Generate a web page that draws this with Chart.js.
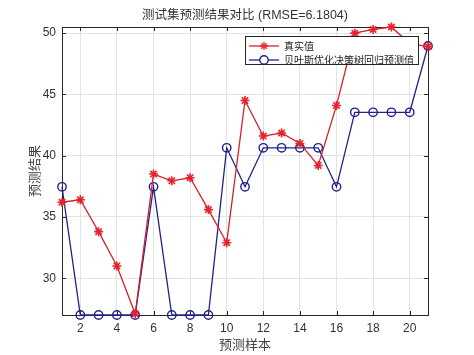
<!DOCTYPE html>
<html>
<head>
<meta charset="utf-8">
<script src="https://cdn.jsdelivr.net/npm/chart.js@4"></script>
<style>
html,body{margin:0;padding:0;background:#fff;}
#wrap{position:relative;width:474px;height:355px;}
#legend{position:absolute;left:245px;top:36px;width:174px;height:29px;background:#fff;border:1px solid #262626;box-sizing:border-box;font-family:"Noto Sans CJK SC",sans-serif;font-size:10px;color:#222;}
.row{position:absolute;left:0;height:14px;display:flex;align-items:center;white-space:nowrap;}
.row svg{margin-left:2px;margin-right:4px;}
</style>
</head>
<body>
<div id="wrap">
<canvas id="c" width="474" height="355"></canvas>
<div id="legend">
  <div class="row" style="top:1.5px"><svg width="32" height="12"><line x1="1" y1="6" x2="31" y2="6" stroke="#d0222b" stroke-width="1.3"/><g stroke="#e8212a" stroke-width="1.3"><line x1="16" y1="2" x2="16" y2="10"/><line x1="12" y1="6" x2="20" y2="6"/><line x1="13.2" y1="3.2" x2="18.8" y2="8.8"/><line x1="13.2" y1="8.8" x2="18.8" y2="3.2"/></g></svg><span>真实值</span></div>
  <div class="row" style="top:15.5px"><svg width="32" height="12"><line x1="1" y1="6" x2="31" y2="6" stroke="#22228a" stroke-width="1.3"/><circle cx="16" cy="6" r="4.2" fill="#fff" stroke="#22228a" stroke-width="1.4"/></svg><span>贝叶斯优化决策树回归预测值</span></div>
</div>
</div>
<script>
const samples = [1,2,3,4,5,6,7,8,9,10,11,12,13,14,15,16,17,18,19,20,21];
const actualValues = [36.2,36.4,33.8,31.0,27.1,38.5,37.95,38.2,35.6,32.9,44.5,41.6,41.85,41.0,39.2,44.1,50.0,50.3,50.5,49.15,48.9];
const predictedValues = [37.46,27.0,27.0,27.0,27.0,37.46,27.0,27.0,27.0,40.64,37.46,40.64,40.64,40.64,40.64,37.46,43.54,43.54,43.54,43.54,48.95];
const xTicks = [2,4,6,8,10,12,14,16,18,20];
const yTicks = [30,35,40,45,50];
const titleText = '测试集预测结果对比 (RMSE=6.1804)';
const seriesNames = ['真实值','贝叶斯优化决策树回归预测值'];

const frame = {
  id:'frame',
  beforeDatasetsDraw(chart){
    const {ctx, chartArea:a, scales} = chart;
    ctx.save();
    ctx.strokeStyle = '#262626';
    ctx.lineWidth = 1;
    ctx.beginPath();
    xTicks.forEach(v=>{
      const px = Math.round(scales.x.getPixelForValue(v))+0.5;
      ctx.moveTo(px,a.bottom); ctx.lineTo(px,a.bottom-4);
      ctx.moveTo(px,a.top); ctx.lineTo(px,a.top+4);
    });
    yTicks.forEach(v=>{
      const py = Math.round(scales.y.getPixelForValue(v))+0.5;
      ctx.moveTo(a.left,py); ctx.lineTo(a.left+4,py);
      ctx.moveTo(a.right,py); ctx.lineTo(a.right-4,py);
    });
    ctx.stroke();
    ctx.strokeRect(Math.round(a.left)+0.5, Math.round(a.top)+0.5, Math.round(a.right-a.left), Math.round(a.bottom-a.top));
    ctx.restore();
  }
};

new Chart(document.getElementById('c'), {
  type:'line',
  data:{
    datasets:[
      {label:seriesNames[0], data:samples.map((x,i)=>({x, y:actualValues[i]})),
       borderColor:'#d0222b', borderWidth:1.3, pointStyle:'star', pointRadius:4.5,
       pointBorderColor:'#e8212a', pointBackgroundColor:'#e8212a', pointBorderWidth:1.6, clip:false, tension:0},
      {label:seriesNames[1], data:samples.map((x,i)=>({x, y:predictedValues[i]})),
       borderColor:'#22228a', borderWidth:1.3, pointStyle:'circle', pointRadius:4.2,
       pointBorderColor:'#22228a', pointBackgroundColor:'rgba(255,255,255,0)', pointBorderWidth:1.4, clip:false, tension:0}
    ]
  },
  options:{
    responsive:false, animation:false, devicePixelRatio:1,
    layout:{padding:{left:0,right:46,top:0,bottom:2}},
    plugins:{
      legend:{display:false},
      tooltip:{enabled:false},
      title:{display:true, text:titleText, color:'#333', fullSize:false,
        font:{family:'"Liberation Sans","Noto Sans CJK SC",sans-serif', size:12.5, weight:'normal'},
        padding:{top:8,bottom:4}}
    },
    scales:{
      x:{type:'linear', min:1, max:21,
        afterBuildTicks(s){ s.ticks = xTicks.map(v=>({value:v})); },
        afterFit(s){ s.height = 38; },
        grid:{color:'#e3e3e3', drawTicks:false, lineWidth:1},
        border:{display:false},
        ticks:{padding:6, color:'#333', font:{family:'"Liberation Sans",sans-serif', size:12}, maxRotation:0},
        title:{display:true, text:'预测样本', color:'#444', padding:{top:0,bottom:1},
          font:{family:'"Noto Sans CJK SC",sans-serif', size:13}}
      },
      y:{type:'linear', min:27, max:50.5,
        afterBuildTicks(s){ s.ticks = yTicks.map(v=>({value:v})); },
        afterFit(s){ s.width = 62; },
        grid:{color:'#e3e3e3', drawTicks:false, lineWidth:1},
        border:{display:false},
        ticks:{padding:6, color:'#333', font:{family:'"Liberation Sans",sans-serif', size:12}},
        title:{display:true, text:'预测结果', color:'#444', padding:{top:26,bottom:0},
          font:{family:'"Noto Sans CJK SC",sans-serif', size:13}}
      }
    }
  },
  plugins:[frame]
});
</script>
</body>
</html>
